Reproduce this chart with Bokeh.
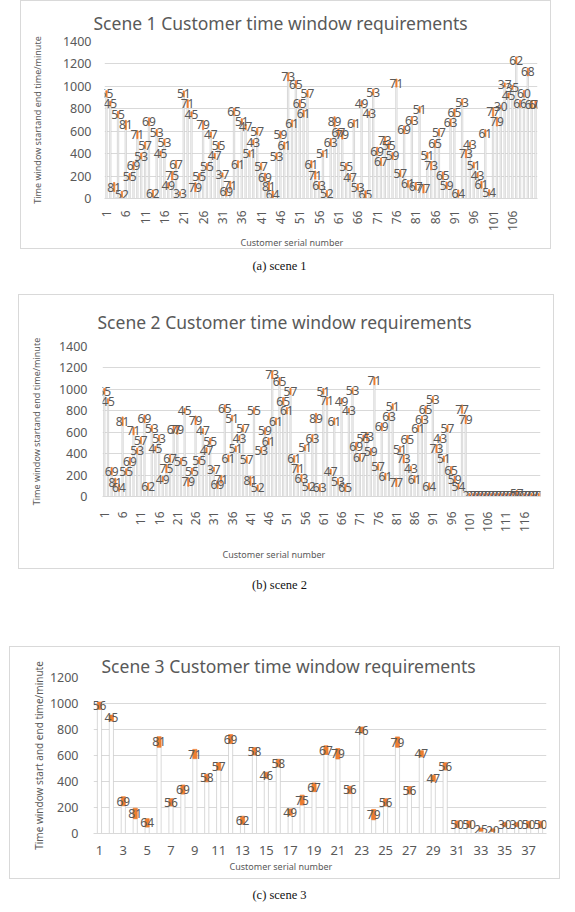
import math
from bokeh.plotting import figure
from bokeh.models import ColumnDataSource, FixedTicker, Title, Div
from bokeh.layouts import column
from bokeh.embed import file_html
from bokeh.resources import INLINE
from bokeh.core.properties import value

# ---------------- data ----------------
# start of each customer's time window (minutes) and window length (the data label)
scene1_start = [906, 824, 62, 722, 12, 616, 168, 258, 534, 352,
                446, 650, 13, 562, 378, 476, 92, 166, 272, 28,
                908, 810, 728, 62, 168, 616, 256, 546, 356, 444,
                192, 24, 82, 740, 276, 660, 616, 374, 480, 570,
                258, 156, 70, 3, 352, 540, 442, 1048, 640, 988,
                814, 728, 906, 276, 174, 86, 374, 18, 470, 640,
                556, 530, 258, 166, 640, 76, 822, 3, 736, 922,
                388, 294, 480, 442, 350, 994, 196, 578, 100, 668,
                76, 768, 50, 360, 256, 454, 560, 172, 88, 646,
                732, 12, 834, 364, 460, 272, 188, 92, 552, 25,
                734, 646, 802, 994, 896, 974, 1200, 813, 904, 1095,
                804, 810]
scene1_len = [55, 45, 81, 55, 52, 81, 55, 69, 71, 53,
              57, 69, 62, 53, 45, 53, 49, 75, 67, 33,
              51, 71, 45, 79, 55, 79, 55, 47, 47, 55,
              37, 69, 71, 65, 61, 51, 47, 51, 43, 57,
              57, 69, 81, 64, 53, 59, 61, 73, 61, 65,
              65, 61, 57, 61, 71, 63, 51, 52, 63, 89,
              67, 79, 55, 47, 61, 53, 49, 65, 43, 53,
              69, 67, 73, 55, 59, 71, 57, 69, 61, 63,
              67, 51, 77, 51, 73, 65, 57, 65, 59, 63,
              65, 64, 53, 73, 43, 51, 43, 61, 61, 54,
              77, 79, 30, 37, 45, 35, 62, 66, 60, 68,
              67, 60]

scene2_start = [954, 868, 202, 90, 49, 662, 204, 296, 576, 400,
                494, 690, 64, 608, 424, 518, 138, 224, 322, 596,
                582, 302, 778, 96, 210, 672, 308, 588, 408, 488,
                236, 76, 126, 790, 326, 706, 420, 524, 606, 314,
                106, 774, 55, 406, 582, 486, 1100, 672, 1044, 858,
                770, 952, 320, 226, 140, 430, 69, 514, 688, 50,
                956, 856, 208, 672, 114, 866, 48, 780, 960, 436,
                332, 518, 524, 388, 1044, 248, 616, 156, 716, 814,
                94, 416, 314, 504, 240, 132, 604, 688, 778, 63,
                880, 410, 516, 326, 606, 214, 132, 68, 778, 680,
                0, 0, 0, 0, 0, 0, 0, 0, 0, 0,
                0, 0, 0, 0, 0, 0, 0, 0, 0, 0]
scene2_len = [55, 45, 69, 81, 64, 81, 55, 69, 71, 53,
              57, 69, 62, 53, 45, 53, 49, 75, 67, 67,
              79, 55, 45, 79, 55, 79, 55, 47, 47, 55,
              37, 69, 71, 65, 61, 51, 51, 43, 57, 57,
              81, 55, 52, 53, 59, 61, 73, 61, 65, 65,
              61, 57, 61, 71, 63, 51, 52, 63, 89, 63,
              51, 71, 47, 61, 53, 49, 65, 43, 53, 69,
              67, 55, 73, 59, 71, 57, 69, 61, 63, 51,
              77, 51, 73, 65, 43, 61, 61, 63, 65, 64,
              53, 73, 43, 51, 57, 65, 59, 54, 77, 79,
              27, 27, 27, 27, 27, 27, 27, 27, 27, 27,
              27, 27, 27, 57, 27, 27, 20, 27, 20, 27]

scene3_start = [955, 866, 214, 114, 50, 664, 212, 304, 576, 398,
                488, 692, 71, 603, 425, 513, 140, 220, 322, 608,
                574, 307, 773, 106, 212, 664, 305, 590, 401, 489,
                47, 47, 18, 16, 54, 54, 44, 44]
scene3_len = [56, 45, 69, 81, 64, 81, 56, 69, 71, 58,
              57, 69, 62, 58, 46, 58, 49, 75, 67, 67,
              79, 56, 46, 79, 56, 79, 56, 47, 47, 56,
              50, 50, 25, 20, 30, 30, 50, 50]

scene1_ticks = list(range(1, 107, 5))
scene2_ticks = list(range(1, 117, 5))
scene3_ticks = list(range(1, 38, 2))

GRAY = "#595959"
ORANGE = "#ed7d31"
GRID = "#d9d9d9"


def make_panel(starts, lens, title, ylabel, xticks, ymax, width, height, mb,
               margin, title_offset, title_std, xlab_offset, xlab_std,
               xlab_valign, ylab_size, ylab_std, vertical_ticks, y_std, x_std):
    n = len(starts)
    src = ColumnDataSource(dict(
        x=list(range(1, n + 1)), start=starts, dur=lens,
        mid=[s + d / 2 for s, d in zip(starts, lens)],
        lab=[str(v) for v in lens]))
    p = figure(width=width, height=height, x_range=(0.5, n + 0.5),
               y_range=(0, ymax), output_backend="svg", toolbar_location=None,
               min_border_left=mb[0], min_border_right=mb[1],
               min_border_top=mb[2], min_border_bottom=mb[3], title=title)
    p.margin = margin
    p.styles = {"border": "1px solid #d9d9d9"}
    p.outline_line_color = None
    p.background_fill_color = "white"
    p.border_fill_color = "white"

    p.title.align = "left"
    p.title.offset = title_offset
    p.title.standoff = title_std
    p.title.text_font = "Noto Sans"
    p.title.text_font_size = "17.5px"
    p.title.text_font_style = "normal"
    p.title.text_color = GRAY

    p.xgrid.visible = False
    p.ygrid.grid_line_color = GRID
    p.ygrid.grid_line_width = 1

    p.vbar_stack(["start", "dur"], x="x", width=0.35, source=src,
                 fill_color=["white", ORANGE], line_color=["#c8c8c8", ORANGE],
                 line_width=0.7)
    p.text(x="x", y="mid", text="lab", source=src, text_align="center",
           text_baseline="middle", text_font=value("Noto Sans"),
           text_font_size="12px", text_color=GRAY)

    for ax in (p.xaxis, p.yaxis):
        ax.major_tick_out = 0
        ax.major_tick_in = 0
        ax.minor_tick_out = 0
        ax.minor_tick_in = 0
        ax.major_tick_line_color = None
        ax.minor_tick_line_color = None
        ax.major_label_text_font = "Noto Sans"
        ax.major_label_text_color = GRAY

    p.yaxis.ticker = FixedTicker(ticks=list(range(0, ymax + 1, 200)))
    p.yaxis.axis_line_color = None
    p.yaxis.major_label_text_font_size = "12.5px"
    p.yaxis.major_label_standoff = y_std
    p.yaxis.axis_label = ylabel
    p.yaxis.axis_label_text_font = "Noto Sans"
    p.yaxis.axis_label_text_font_size = ylab_size
    p.yaxis.axis_label_text_font_style = "normal"
    p.yaxis.axis_label_text_color = GRAY
    p.yaxis.axis_label_standoff = ylab_std

    p.xaxis.ticker = FixedTicker(ticks=xticks)
    p.xaxis.axis_line_color = GRID
    p.xaxis.major_label_text_font_size = "12px" if vertical_ticks else "13px"
    p.xaxis.major_label_standoff = x_std
    if vertical_ticks:
        p.xaxis.major_label_orientation = math.pi / 2

    p.add_layout(Title(text="Customer serial number", align="left",
                       offset=xlab_offset, standoff=xlab_std,
                       vertical_align=xlab_valign,
                       text_font="Noto Sans", text_font_size="9px",
                       text_font_style="normal", text_color=GRAY), "below")
    return p


def caption(text, height, pad):
    return Div(text=('<div style="width:559px;text-align:center;'
                     'font-family:\'Liberation Serif\',serif;font-size:12.5px;'
                     'line-height:14px;color:#111;padding-top:%dpx">%s</div>'
                     % (pad, text)),
               width=559, height=height, margin=(0, 0, 0, 0))


p1 = make_panel(scene1_start, scene1_len,
                "Scene 1 Customer time window requirements",
                "Time window startand end time/minute", scene1_ticks, 1400,
                531, 249, (79, 1, 39, 50), (0, 0, 0, 20),
                -11, 14, 136, 1, "middle", "9px", 16, True, 13, 12)
p2 = make_panel(scene2_start, scene2_len,
                "Scene 2 Customer time window requirements",
                "Time window startand end time/minute", scene2_ticks, 1400,
                536, 275, (83, 15, 50, 70), (0, 0, 0, 18),
                -5, 25, 120, 20, "bottom", "9px", 13, True, 15, 15)
p3 = make_panel(scene3_start, scene3_len,
                "Scene 3 Customer time window requirements",
                "Time window start and end time/minute", scene3_ticks, 1200,
                551, 233, (81, 15, 30, 47), (0, 0, 0, 9),
                8, 0, 136, 0, "bottom", "10px", 1, False, 15, 12)

layout = column(p1, caption("(a) scene 1", 45, 10),
                p2, caption("(b) scene 2", 77, 9),
                p3, caption("(c) scene 3", 18, 9))
layout.margin = (0, 0, 0, 0)

open("out.html", "w").write(file_html(layout, INLINE))
